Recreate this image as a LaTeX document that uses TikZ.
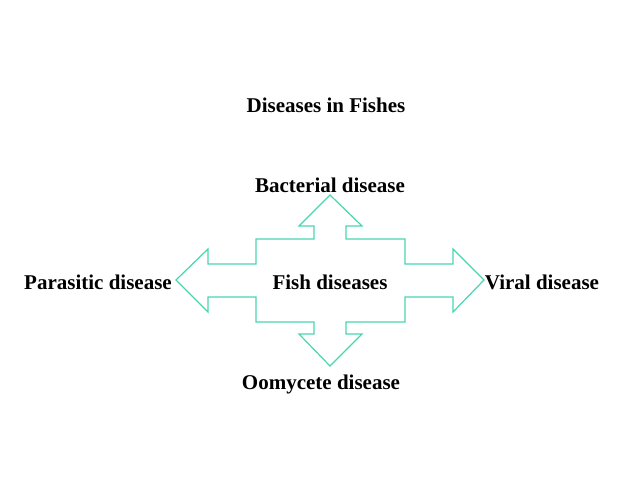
\documentclass[tikz,border=0pt]{standalone}
\usepackage{fontspec}
\setmainfont{Liberation Serif}
\begin{document}
\begin{tikzpicture}[x=1pt,y=-1pt,
  lbl/.style={font=\fontsize{21}{24}\selectfont\bfseries, inner sep=0pt, anchor=center},
  arrowline/.style={draw={rgb,255:red,72;green,214;blue,176}, line width=1.2pt, line join=miter}]
\useasboundingbox (0,0) rectangle (638,478);
\draw[arrowline]
  (330,195) -- (362,226) -- (346,226) -- (346,239) -- (405,239) -- (405,264)
  -- (453,264) -- (453,249) -- (484,280) -- (453,312) -- (453,297) -- (405,297)
  -- (405,322) -- (346,322) -- (346,334) -- (362,334) -- (330,366) -- (299,334)
  -- (314,334) -- (314,322) -- (256,322) -- (256,297) -- (208,297) -- (208,312)
  -- (176,280) -- (208,249) -- (208,264) -- (256,264) -- (256,239) -- (314,239)
  -- (314,226) -- (299,226) -- cycle;
\node[lbl] (title) at (326,105) {Diseases in Fishes};
\node[lbl] (bact) at (330,185) {Bacterial disease};
\node[lbl] (fish) at (330,282) {Fish diseases};
\node[lbl] (viral) at (542,282) {Viral disease};
\node[lbl] (para) at (98,282) {Parasitic disease};
\node[lbl] (oomy) at (321,384) {Oomycete disease};
\end{tikzpicture}
\end{document}
